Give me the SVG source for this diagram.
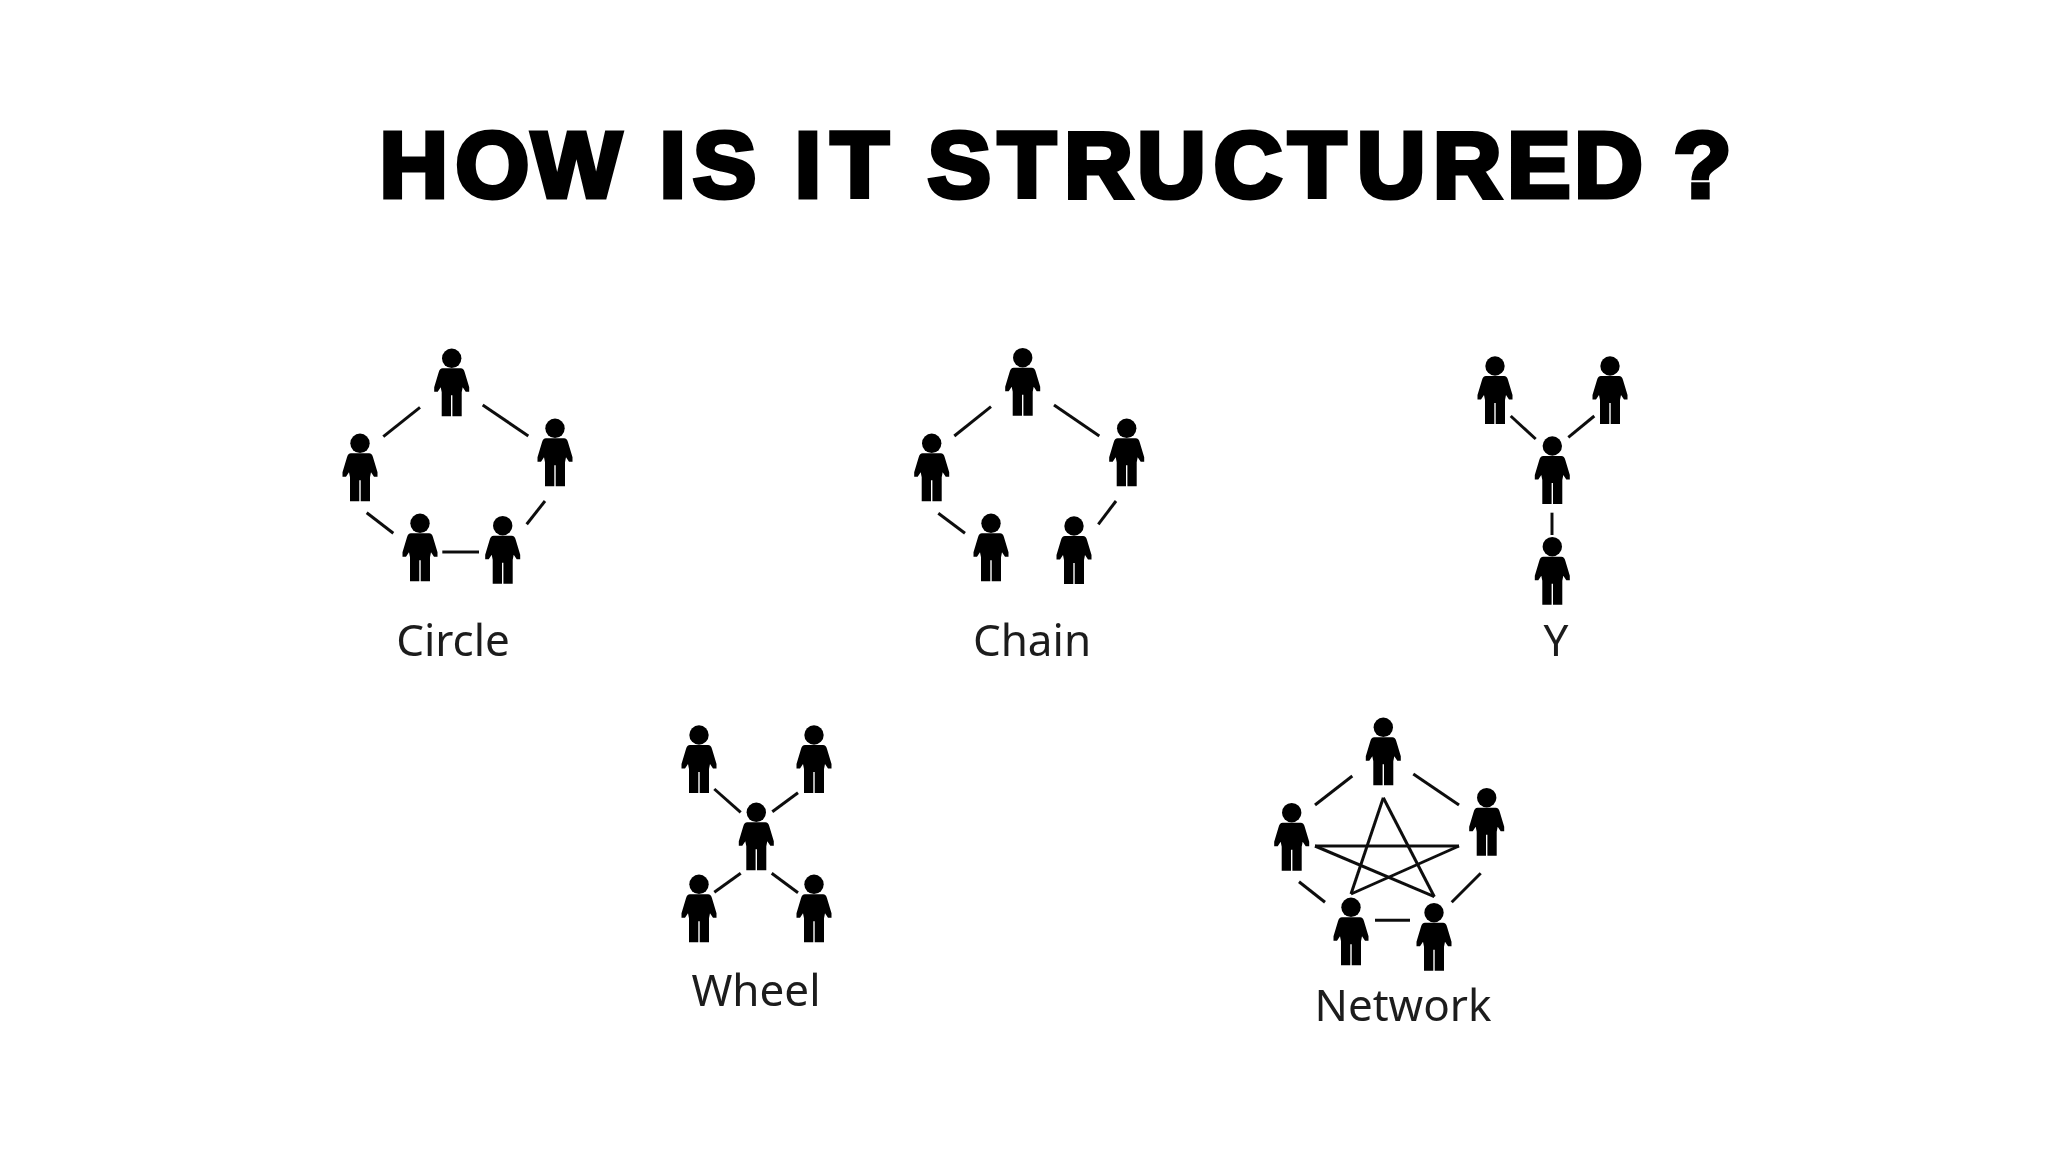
<svg xmlns="http://www.w3.org/2000/svg" width="2048" height="1152" viewBox="0 0 2048 1152">
<style>
.title{font-family:"Liberation Sans",Arial,sans-serif;font-weight:700;font-size:92px;fill:#000;stroke:#000;stroke-width:5px;stroke-linejoin:miter;text-anchor:middle}
.lbl{font-family:"Noto Sans","Open Sans",sans-serif;font-size:44px;fill:#1c1c1c;text-anchor:middle;filter:url(#soft)}
.c{filter:url(#soft)}
.c line{stroke:#111;stroke-width:3;fill:none}
.n use{filter:url(#soft)}
</style>
<defs>
<filter id="soft" x="-20%" y="-20%" width="140%" height="140%"><feGaussianBlur stdDeviation="0.6"/></filter>
<g id="p"><circle cx="0" cy="0" r="9.7" fill="#000"/><path d="M-9,10H9Q12,10 13,14L17.5,29V33.5H14L11,29L10,34V58H0.7V37H-0.7V58H-10V34L-11,29L-14,33.5H-17.5V29L-13,14Q-12,10 -9,10Z" fill="#000"/></g>
</defs>
<rect width="2048" height="1152" fill="#fff"/>
<text class="title" transform="scale(1.03,1)" y="197" x="401.7 478.1 559.7 620 653.1 703.4 750 784.5 834.6 880 931.4 997.1 1066.5 1137.4 1211.7 1278.8 1350.6 1424.5 1494 1561.7 1620 1652.9">HOW IS IT STRUCTURED ?</text>
<g id="circle" class="n">
<use href="#p" x="451.7" y="358.3"/><use href="#p" x="555" y="428.3"/><use href="#p" x="360" y="443.3"/><use href="#p" x="420" y="523.3"/><use href="#p" x="502.7" y="525.7"/>
<text class="lbl" x="453" y="656">Circle</text>
</g>
<g id="chain" class="n">
<use href="#p" x="1022.7" y="357.7"/><use href="#p" x="1126.7" y="428.3"/><use href="#p" x="931.7" y="443.3"/><use href="#p" x="991" y="523.3"/><use href="#p" x="1074" y="526"/>
<text class="lbl" x="1032" y="656">Chain</text>
</g>
<g id="y" class="n">
<use href="#p" x="1495" y="366"/><use href="#p" x="1610" y="366"/><use href="#p" x="1552.3" y="446"/><use href="#p" x="1552.3" y="546.7"/>
<text class="lbl" x="1556" y="656">Y</text>
</g>
<g id="wheel" class="n">
<use href="#p" x="699" y="735"/><use href="#p" x="814" y="735"/><use href="#p" x="756.3" y="812.3"/><use href="#p" x="699" y="884.3"/><use href="#p" x="814" y="884.3"/>
<text class="lbl" x="756" y="1006">Wheel</text>
</g>
<g id="network" class="n">
<use href="#p" x="1383.3" y="727.3"/><use href="#p" x="1486.7" y="797.7"/><use href="#p" x="1291.7" y="812.7"/><use href="#p" x="1351" y="907.3"/><use href="#p" x="1434" y="912.7"/>
<text class="lbl" x="1403" y="1021">Network</text>
</g>
<g id="connectors" class="c">
<line x1="383.3" y1="436.7" x2="420" y2="407.3"/><line x1="482.7" y1="405" x2="528.3" y2="436"/><line x1="366.7" y1="512.7" x2="393.3" y2="533.3"/><line x1="526.7" y1="524.3" x2="545" y2="501"/><line x1="442.3" y1="552" x2="479" y2="552"/>
<line x1="954.3" y1="436" x2="991" y2="406.7"/><line x1="1054" y1="405" x2="1099.3" y2="436"/><line x1="938.3" y1="513.3" x2="965" y2="533.3"/><line x1="1098.3" y1="524.3" x2="1116" y2="501"/>
<line x1="1510.7" y1="416" x2="1535.7" y2="439"/><line x1="1568.3" y1="437.3" x2="1594.3" y2="416"/><line x1="1552" y1="512.7" x2="1552" y2="535"/>
<line x1="714.3" y1="789" x2="740.7" y2="812.3"/><line x1="772.3" y1="811.7" x2="798" y2="792.7"/><line x1="714.3" y1="892.3" x2="740.7" y2="873.3"/><line x1="771.7" y1="873.3" x2="798" y2="892.7"/>
<line x1="1315" y1="805" x2="1352.3" y2="776"/><line x1="1413.3" y1="774" x2="1459" y2="805"/><line x1="1299" y1="881.7" x2="1325" y2="902.3"/><line x1="1451.7" y1="902.3" x2="1480.7" y2="873.3"/><line x1="1375" y1="920.3" x2="1410" y2="920.3"/>
<line x1="1383.3" y1="797.7" x2="1351" y2="894"/><line x1="1383.3" y1="797.7" x2="1434.3" y2="896.7"/><line x1="1315" y1="846" x2="1459" y2="846"/><line x1="1315" y1="846" x2="1434.3" y2="896.7"/><line x1="1459" y1="846" x2="1351" y2="894"/>
</g>
</svg>
